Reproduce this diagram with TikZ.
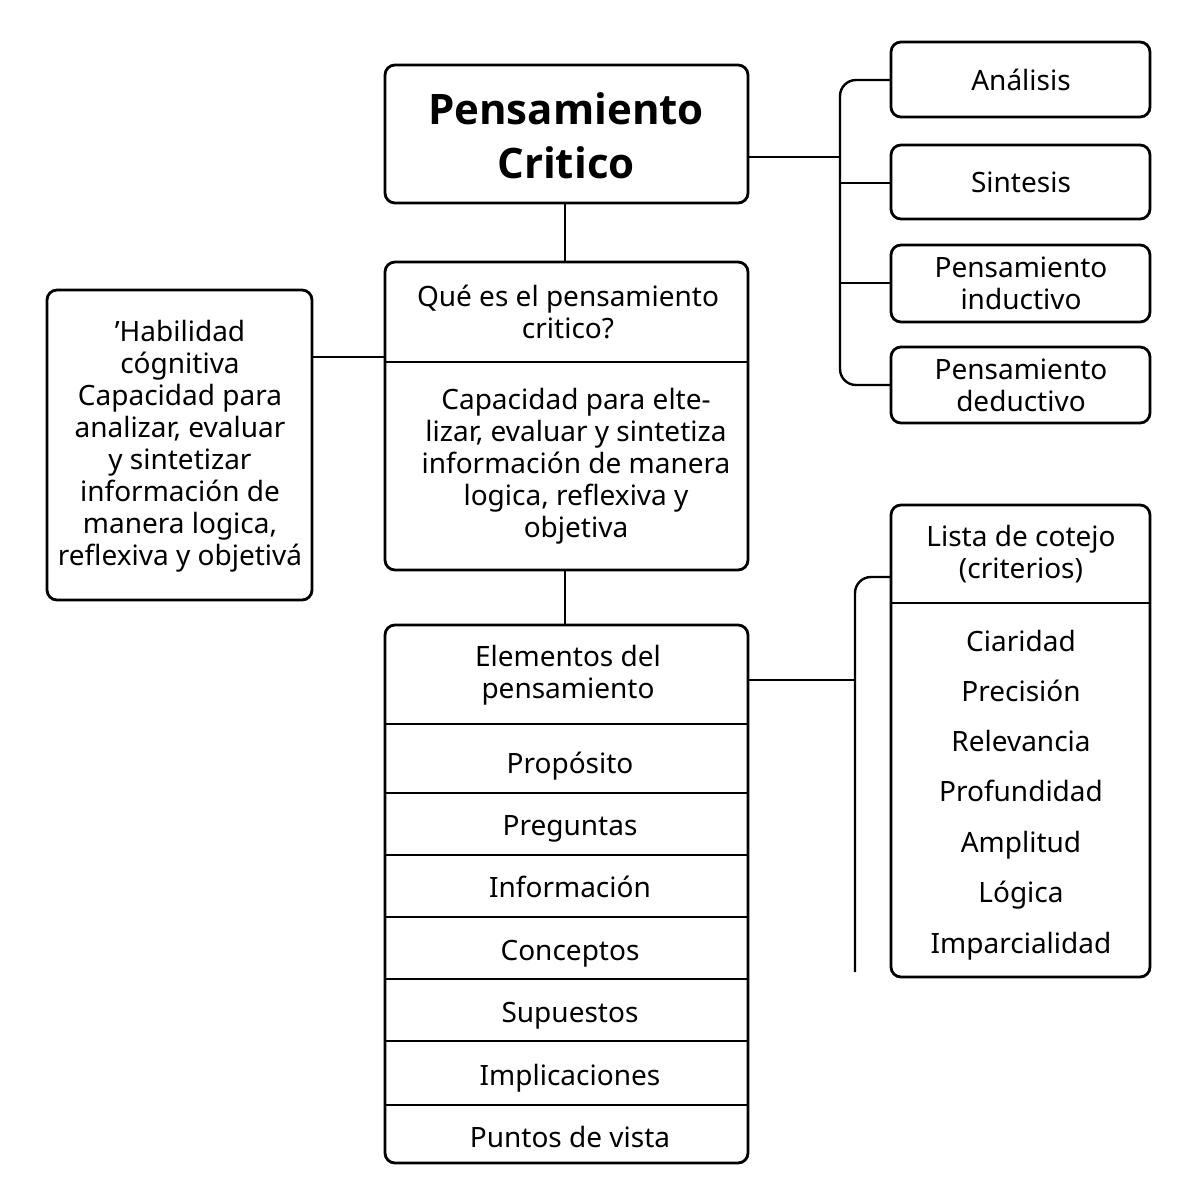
\documentclass[tikz,border=0pt]{standalone}
\usepackage{fontspec}
\setmainfont{Noto Sans}
\newfontfamily\ttlfont{Open Sans}[BoldFont={* Bold}]
\begin{document}
\begin{tikzpicture}[x=0.5pt,y=-0.5pt,
 bx/.style={draw,line width=1.4pt,rounded corners=5pt},
 ln/.style={line width=1.2pt},
 tx/.style={align=center,font=\fontsize{14}{16}\selectfont,inner sep=0pt},
 it/.style={font=\fontsize{14}{16}\selectfont,inner sep=0pt,anchor=base}]
\useasboundingbox (0,0) rectangle (1200,1200);
% title
\draw[bx] (385,65) rectangle (748,203);
\node[align=center,font=\fontsize{21}{27}\ttlfont\bfseries,inner sep=0pt] (title) at (566,136) {Pensamiento\\Critico};
\coordinate (tR) at (748,157);
% right boxes
\foreach \n/\a/\b/\t in {an/42/117/Análisis, si/145/219/Sintesis, pi/245/322/{Pensamiento\\inductivo}, pd/347/423/{Pensamiento\\deductivo}}{
 \draw[bx] (891,\a) rectangle (1150,\b);
 \node[tx] (\n) at (1021,{(\a+\b)/2}) {\t};
}
\draw[ln,rounded corners=8pt] (891,80) -- (840,80) -- (840,385) -- (891,385);
\draw[ln] (tR) -- (840,157);
\draw[ln] (840,183) -- (891,183);
\draw[ln] (840,283) -- (891,283);
% box2
\draw[bx] (385,262) rectangle (748,570);
\draw[ln] (385,362) -- (748,362);
\node[tx] (q) at (568,312) {Qué es el pensamiento\\critico?};
\node[tx] (qd) at (576,466) {Capacidad para elte-\\lizar, evaluar y sintetiza\\información de manera\\logica, reflexiva y\\objetiva};
\draw[ln] (565,203) -- (565,262);
% left box
\draw[bx] (47,290) rectangle (312,600);
\node[tx] (hab) at (180,446) {'Habilidad\\cógnitiva\\Capacidad para\\analizar, evaluar\\y sintetizar\\información de\\manera logica,\\reflexiva y objetivá};
\draw[ln] (312,357) -- (385,357);
\draw[ln] (565,570) -- (565,625);
% box3
\draw[bx] (385,625) rectangle (748,1163);
\foreach \y in {724,793,855,917,979,1041,1105} \draw[ln] (385,\y) -- (748,\y);
\node[tx] (el) at (568,675) {Elementos del\\pensamiento};
\foreach \n/\y/\t in {e1/773/Propósito,e2/835/Preguntas,e3/897/Información,e4/960/Conceptos,e5/1022/Supuestos,e6/1085/Implicaciones,e7/1147/Puntos de vista}
 \node[it] (\n) at (570,\y) {\t};
% box4
\draw[bx] (891,505) rectangle (1150,977);
\draw[ln] (891,603) -- (1150,603);
\node[tx] (lc) at (1021,554) {Lista de cotejo\\(criterios)};
\foreach \n/\y/\t in {c1/651/Ciaridad,c2/701/Precisión,c3/751/Relevancia,c4/801/Profundidad,c5/852/Amplitud,c6/902/Lógica,c7/953/Imparcialidad}
 \node[it] (\n) at (1021,\y) {\t};
\draw[ln] (748,680) -- (855,680);
\draw[ln,rounded corners=8pt] (891,577) -- (855,577) -- (855,972);
\end{tikzpicture}
\end{document}
